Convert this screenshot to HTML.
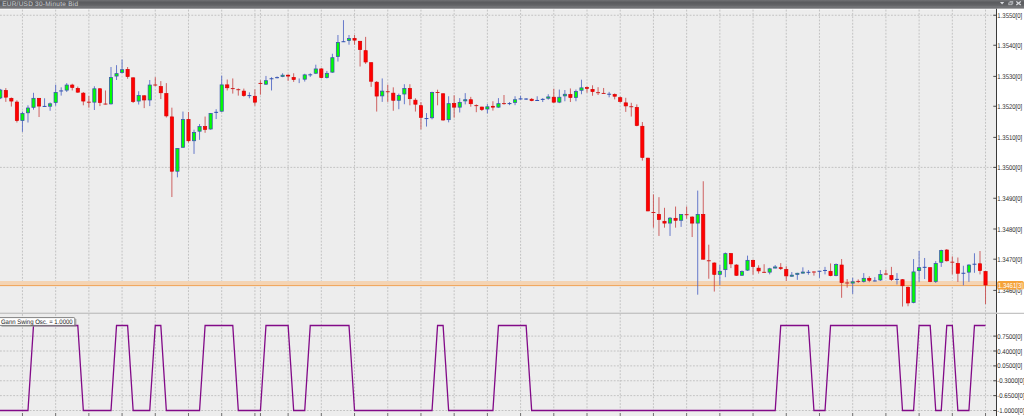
<!DOCTYPE html><html><head><meta charset="utf-8"><style>html,body{margin:0;padding:0;background:#fff;overflow:hidden}svg{display:block}text{font-family:"Liberation Sans",sans-serif;text-rendering:geometricPrecision}</style></head><body>
<svg width="1024" height="416" viewBox="0 0 1024 416">
<rect x="0" y="0" width="1024" height="416" fill="#ffffff"/>
<rect x="0" y="9.5" width="996" height="303" fill="#ededed"/>
<rect x="0" y="314" width="996" height="102" fill="#ededed"/>
<rect x="0" y="312.5" width="1024" height="1.5" fill="#c4c4c4"/>
<defs><linearGradient id="tb" x1="0" y1="0" x2="0" y2="1">
<stop offset="0" stop-color="#737477"/><stop offset="0.1" stop-color="#67686b"/>
<stop offset="0.3" stop-color="#5a5b5e"/><stop offset="0.6" stop-color="#636467"/>
<stop offset="0.8" stop-color="#77787b"/><stop offset="0.92" stop-color="#6c6d70"/><stop offset="1" stop-color="#606164"/></linearGradient></defs>
<rect x="0" y="0" width="1024" height="8.8" fill="url(#tb)"/>
<rect x="0" y="8.8" width="996" height="1.1" fill="#f8f8f8"/>
<text x="2.2" y="6.3" font-size="6.5" textLength="75.8" lengthAdjust="spacing" fill="#c9cbd0">EUR/USD 30-Minute Bid</text>
<path d="M1000 2.1 L1004.2 2.1 L1002.1 4.5 Z" fill="#d8dade"/>
<path d="M1009.6 1.3 H1013.2 V4 H1012.4 V2.2 H1009.6 Z" fill="#c4c6ca"/>
<rect x="1008.8" y="2.9" width="3.2" height="1.8" fill="#55565a" stroke="#c4c6ca" stroke-width="0.8"/>
<path d="M1016.3 1.5 L1020.8 4.9 M1020.8 1.5 L1016.3 4.9" stroke="#d6d8dc" stroke-width="1.3"/>
<line x1="22.44" y1="9.7" x2="22.44" y2="312.5" stroke="#bdbdbd" stroke-width="0.9" stroke-dasharray="1.8 1.5"/>
<line x1="22.44" y1="314" x2="22.44" y2="411.5" stroke="#bdbdbd" stroke-width="0.9" stroke-dasharray="1.8 1.5"/>
<line x1="22.44" y1="413" x2="22.44" y2="416" stroke="#606060" stroke-width="0.9"/>
<line x1="55.65" y1="9.7" x2="55.65" y2="312.5" stroke="#bdbdbd" stroke-width="0.9" stroke-dasharray="1.8 1.5"/>
<line x1="55.65" y1="314" x2="55.65" y2="411.5" stroke="#bdbdbd" stroke-width="0.9" stroke-dasharray="1.8 1.5"/>
<line x1="55.65" y1="413" x2="55.65" y2="416" stroke="#606060" stroke-width="0.9"/>
<line x1="88.86" y1="9.7" x2="88.86" y2="312.5" stroke="#bdbdbd" stroke-width="0.9" stroke-dasharray="1.8 1.5"/>
<line x1="88.86" y1="314" x2="88.86" y2="411.5" stroke="#bdbdbd" stroke-width="0.9" stroke-dasharray="1.8 1.5"/>
<line x1="88.86" y1="413" x2="88.86" y2="416" stroke="#606060" stroke-width="0.9"/>
<line x1="122.07" y1="9.7" x2="122.07" y2="312.5" stroke="#bdbdbd" stroke-width="0.9" stroke-dasharray="1.8 1.5"/>
<line x1="122.07" y1="314" x2="122.07" y2="411.5" stroke="#bdbdbd" stroke-width="0.9" stroke-dasharray="1.8 1.5"/>
<line x1="122.07" y1="413" x2="122.07" y2="416" stroke="#606060" stroke-width="0.9"/>
<line x1="155.28" y1="9.7" x2="155.28" y2="312.5" stroke="#bdbdbd" stroke-width="0.9" stroke-dasharray="1.8 1.5"/>
<line x1="155.28" y1="314" x2="155.28" y2="411.5" stroke="#bdbdbd" stroke-width="0.9" stroke-dasharray="1.8 1.5"/>
<line x1="155.28" y1="413" x2="155.28" y2="416" stroke="#606060" stroke-width="0.9"/>
<line x1="188.49" y1="9.7" x2="188.49" y2="312.5" stroke="#bdbdbd" stroke-width="0.9" stroke-dasharray="1.8 1.5"/>
<line x1="188.49" y1="314" x2="188.49" y2="411.5" stroke="#bdbdbd" stroke-width="0.9" stroke-dasharray="1.8 1.5"/>
<line x1="188.49" y1="413" x2="188.49" y2="416" stroke="#606060" stroke-width="0.9"/>
<line x1="221.70" y1="9.7" x2="221.70" y2="312.5" stroke="#bdbdbd" stroke-width="0.9" stroke-dasharray="1.8 1.5"/>
<line x1="221.70" y1="314" x2="221.70" y2="411.5" stroke="#bdbdbd" stroke-width="0.9" stroke-dasharray="1.8 1.5"/>
<line x1="221.70" y1="413" x2="221.70" y2="416" stroke="#606060" stroke-width="0.9"/>
<line x1="254.91" y1="9.7" x2="254.91" y2="312.5" stroke="#bdbdbd" stroke-width="0.9" stroke-dasharray="1.8 1.5"/>
<line x1="254.91" y1="314" x2="254.91" y2="411.5" stroke="#bdbdbd" stroke-width="0.9" stroke-dasharray="1.8 1.5"/>
<line x1="254.91" y1="413" x2="254.91" y2="416" stroke="#606060" stroke-width="0.9"/>
<line x1="288.12" y1="9.7" x2="288.12" y2="312.5" stroke="#bdbdbd" stroke-width="0.9" stroke-dasharray="1.8 1.5"/>
<line x1="288.12" y1="314" x2="288.12" y2="411.5" stroke="#bdbdbd" stroke-width="0.9" stroke-dasharray="1.8 1.5"/>
<line x1="288.12" y1="413" x2="288.12" y2="416" stroke="#606060" stroke-width="0.9"/>
<line x1="321.33" y1="9.7" x2="321.33" y2="312.5" stroke="#bdbdbd" stroke-width="0.9" stroke-dasharray="1.8 1.5"/>
<line x1="321.33" y1="314" x2="321.33" y2="411.5" stroke="#bdbdbd" stroke-width="0.9" stroke-dasharray="1.8 1.5"/>
<line x1="321.33" y1="413" x2="321.33" y2="416" stroke="#606060" stroke-width="0.9"/>
<line x1="354.54" y1="9.7" x2="354.54" y2="312.5" stroke="#bdbdbd" stroke-width="0.9" stroke-dasharray="1.8 1.5"/>
<line x1="354.54" y1="314" x2="354.54" y2="411.5" stroke="#bdbdbd" stroke-width="0.9" stroke-dasharray="1.8 1.5"/>
<line x1="354.54" y1="413" x2="354.54" y2="416" stroke="#606060" stroke-width="0.9"/>
<line x1="387.75" y1="9.7" x2="387.75" y2="312.5" stroke="#bdbdbd" stroke-width="0.9" stroke-dasharray="1.8 1.5"/>
<line x1="387.75" y1="314" x2="387.75" y2="411.5" stroke="#bdbdbd" stroke-width="0.9" stroke-dasharray="1.8 1.5"/>
<line x1="387.75" y1="413" x2="387.75" y2="416" stroke="#606060" stroke-width="0.9"/>
<line x1="420.96" y1="9.7" x2="420.96" y2="312.5" stroke="#bdbdbd" stroke-width="0.9" stroke-dasharray="1.8 1.5"/>
<line x1="420.96" y1="314" x2="420.96" y2="411.5" stroke="#bdbdbd" stroke-width="0.9" stroke-dasharray="1.8 1.5"/>
<line x1="420.96" y1="413" x2="420.96" y2="416" stroke="#606060" stroke-width="0.9"/>
<line x1="454.17" y1="9.7" x2="454.17" y2="312.5" stroke="#bdbdbd" stroke-width="0.9" stroke-dasharray="1.8 1.5"/>
<line x1="454.17" y1="314" x2="454.17" y2="411.5" stroke="#bdbdbd" stroke-width="0.9" stroke-dasharray="1.8 1.5"/>
<line x1="454.17" y1="413" x2="454.17" y2="416" stroke="#606060" stroke-width="0.9"/>
<line x1="487.38" y1="9.7" x2="487.38" y2="312.5" stroke="#bdbdbd" stroke-width="0.9" stroke-dasharray="1.8 1.5"/>
<line x1="487.38" y1="314" x2="487.38" y2="411.5" stroke="#bdbdbd" stroke-width="0.9" stroke-dasharray="1.8 1.5"/>
<line x1="487.38" y1="413" x2="487.38" y2="416" stroke="#606060" stroke-width="0.9"/>
<line x1="520.59" y1="9.7" x2="520.59" y2="312.5" stroke="#bdbdbd" stroke-width="0.9" stroke-dasharray="1.8 1.5"/>
<line x1="520.59" y1="314" x2="520.59" y2="411.5" stroke="#bdbdbd" stroke-width="0.9" stroke-dasharray="1.8 1.5"/>
<line x1="520.59" y1="413" x2="520.59" y2="416" stroke="#606060" stroke-width="0.9"/>
<line x1="553.80" y1="9.7" x2="553.80" y2="312.5" stroke="#bdbdbd" stroke-width="0.9" stroke-dasharray="1.8 1.5"/>
<line x1="553.80" y1="314" x2="553.80" y2="411.5" stroke="#bdbdbd" stroke-width="0.9" stroke-dasharray="1.8 1.5"/>
<line x1="553.80" y1="413" x2="553.80" y2="416" stroke="#606060" stroke-width="0.9"/>
<line x1="587.01" y1="9.7" x2="587.01" y2="312.5" stroke="#bdbdbd" stroke-width="0.9" stroke-dasharray="1.8 1.5"/>
<line x1="587.01" y1="314" x2="587.01" y2="411.5" stroke="#bdbdbd" stroke-width="0.9" stroke-dasharray="1.8 1.5"/>
<line x1="587.01" y1="413" x2="587.01" y2="416" stroke="#606060" stroke-width="0.9"/>
<line x1="620.22" y1="9.7" x2="620.22" y2="312.5" stroke="#bdbdbd" stroke-width="0.9" stroke-dasharray="1.8 1.5"/>
<line x1="620.22" y1="314" x2="620.22" y2="411.5" stroke="#bdbdbd" stroke-width="0.9" stroke-dasharray="1.8 1.5"/>
<line x1="620.22" y1="413" x2="620.22" y2="416" stroke="#606060" stroke-width="0.9"/>
<line x1="653.43" y1="9.7" x2="653.43" y2="312.5" stroke="#bdbdbd" stroke-width="0.9" stroke-dasharray="1.8 1.5"/>
<line x1="653.43" y1="314" x2="653.43" y2="411.5" stroke="#bdbdbd" stroke-width="0.9" stroke-dasharray="1.8 1.5"/>
<line x1="653.43" y1="413" x2="653.43" y2="416" stroke="#606060" stroke-width="0.9"/>
<line x1="686.64" y1="9.7" x2="686.64" y2="312.5" stroke="#bdbdbd" stroke-width="0.9" stroke-dasharray="1.8 1.5"/>
<line x1="686.64" y1="314" x2="686.64" y2="411.5" stroke="#bdbdbd" stroke-width="0.9" stroke-dasharray="1.8 1.5"/>
<line x1="686.64" y1="413" x2="686.64" y2="416" stroke="#606060" stroke-width="0.9"/>
<line x1="719.85" y1="9.7" x2="719.85" y2="312.5" stroke="#bdbdbd" stroke-width="0.9" stroke-dasharray="1.8 1.5"/>
<line x1="719.85" y1="314" x2="719.85" y2="411.5" stroke="#bdbdbd" stroke-width="0.9" stroke-dasharray="1.8 1.5"/>
<line x1="719.85" y1="413" x2="719.85" y2="416" stroke="#606060" stroke-width="0.9"/>
<line x1="753.06" y1="9.7" x2="753.06" y2="312.5" stroke="#bdbdbd" stroke-width="0.9" stroke-dasharray="1.8 1.5"/>
<line x1="753.06" y1="314" x2="753.06" y2="411.5" stroke="#bdbdbd" stroke-width="0.9" stroke-dasharray="1.8 1.5"/>
<line x1="753.06" y1="413" x2="753.06" y2="416" stroke="#606060" stroke-width="0.9"/>
<line x1="786.27" y1="9.7" x2="786.27" y2="312.5" stroke="#bdbdbd" stroke-width="0.9" stroke-dasharray="1.8 1.5"/>
<line x1="786.27" y1="314" x2="786.27" y2="411.5" stroke="#bdbdbd" stroke-width="0.9" stroke-dasharray="1.8 1.5"/>
<line x1="786.27" y1="413" x2="786.27" y2="416" stroke="#606060" stroke-width="0.9"/>
<line x1="819.48" y1="9.7" x2="819.48" y2="312.5" stroke="#bdbdbd" stroke-width="0.9" stroke-dasharray="1.8 1.5"/>
<line x1="819.48" y1="314" x2="819.48" y2="411.5" stroke="#bdbdbd" stroke-width="0.9" stroke-dasharray="1.8 1.5"/>
<line x1="819.48" y1="413" x2="819.48" y2="416" stroke="#606060" stroke-width="0.9"/>
<line x1="852.69" y1="9.7" x2="852.69" y2="312.5" stroke="#bdbdbd" stroke-width="0.9" stroke-dasharray="1.8 1.5"/>
<line x1="852.69" y1="314" x2="852.69" y2="411.5" stroke="#bdbdbd" stroke-width="0.9" stroke-dasharray="1.8 1.5"/>
<line x1="852.69" y1="413" x2="852.69" y2="416" stroke="#606060" stroke-width="0.9"/>
<line x1="885.90" y1="9.7" x2="885.90" y2="312.5" stroke="#bdbdbd" stroke-width="0.9" stroke-dasharray="1.8 1.5"/>
<line x1="885.90" y1="314" x2="885.90" y2="411.5" stroke="#bdbdbd" stroke-width="0.9" stroke-dasharray="1.8 1.5"/>
<line x1="885.90" y1="413" x2="885.90" y2="416" stroke="#606060" stroke-width="0.9"/>
<line x1="919.11" y1="9.7" x2="919.11" y2="312.5" stroke="#bdbdbd" stroke-width="0.9" stroke-dasharray="1.8 1.5"/>
<line x1="919.11" y1="314" x2="919.11" y2="411.5" stroke="#bdbdbd" stroke-width="0.9" stroke-dasharray="1.8 1.5"/>
<line x1="919.11" y1="413" x2="919.11" y2="416" stroke="#606060" stroke-width="0.9"/>
<line x1="952.32" y1="9.7" x2="952.32" y2="312.5" stroke="#bdbdbd" stroke-width="0.9" stroke-dasharray="1.8 1.5"/>
<line x1="952.32" y1="314" x2="952.32" y2="411.5" stroke="#bdbdbd" stroke-width="0.9" stroke-dasharray="1.8 1.5"/>
<line x1="952.32" y1="413" x2="952.32" y2="416" stroke="#606060" stroke-width="0.9"/>
<line x1="985.53" y1="9.7" x2="985.53" y2="312.5" stroke="#bdbdbd" stroke-width="0.9" stroke-dasharray="1.8 1.5"/>
<line x1="985.53" y1="314" x2="985.53" y2="411.5" stroke="#bdbdbd" stroke-width="0.9" stroke-dasharray="1.8 1.5"/>
<line x1="985.53" y1="413" x2="985.53" y2="416" stroke="#606060" stroke-width="0.9"/>
<line x1="260.44" y1="9.7" x2="260.44" y2="312.5" stroke="#bdbdbd" stroke-width="0.9" stroke-dasharray="1.8 1.5"/>
<line x1="260.44" y1="314" x2="260.44" y2="411.5" stroke="#bdbdbd" stroke-width="0.9" stroke-dasharray="1.8 1.5"/>
<line x1="260.44" y1="413" x2="260.44" y2="416" stroke="#606060" stroke-width="0.9"/>
<line x1="0" y1="15.25" x2="996" y2="15.25" stroke="#bdbdbd" stroke-width="0.9" stroke-dasharray="1.8 1.5"/>
<line x1="0" y1="167.40" x2="996" y2="167.40" stroke="#bdbdbd" stroke-width="0.9" stroke-dasharray="1.8 1.5"/>
<line x1="0" y1="336.12" x2="996" y2="336.12" stroke="#bdbdbd" stroke-width="0.9" stroke-dasharray="1.8 1.5"/>
<line x1="0" y1="351.00" x2="996" y2="351.00" stroke="#bdbdbd" stroke-width="0.9" stroke-dasharray="1.8 1.5"/>
<line x1="0" y1="365.88" x2="996" y2="365.88" stroke="#bdbdbd" stroke-width="0.9" stroke-dasharray="1.8 1.5"/>
<line x1="0" y1="380.75" x2="996" y2="380.75" stroke="#bdbdbd" stroke-width="0.9" stroke-dasharray="1.8 1.5"/>
<line x1="0" y1="395.62" x2="996" y2="395.62" stroke="#bdbdbd" stroke-width="0.9" stroke-dasharray="1.8 1.5"/>
<line x1="0" y1="410.50" x2="996" y2="410.50" stroke="#bdbdbd" stroke-width="0.9" stroke-dasharray="1.8 1.5"/>
<rect x="0" y="281" width="996" height="4.4" fill="#f4d4b4"/>
<rect x="0" y="285" width="996" height="1.1" fill="#f0a860"/>
<line x1="0.30" y1="88.91" x2="0.30" y2="99.06" stroke="#4f66c4" stroke-width="0.85"/>
<rect x="-1.30" y="90.04" width="3.20" height="7.89" fill="#00ff00" stroke="#3a52b0" stroke-width="0.75"/>
<line x1="5.83" y1="88.12" x2="5.83" y2="101.88" stroke="#c84848" stroke-width="0.85"/>
<rect x="4.23" y="90.51" width="3.20" height="6.64" fill="#ff0000" stroke="#d80000" stroke-width="0.7"/>
<line x1="11.37" y1="97.50" x2="11.37" y2="106.56" stroke="#c84848" stroke-width="0.85"/>
<rect x="9.77" y="98.32" width="3.20" height="2.74" fill="#ff0000" stroke="#d80000" stroke-width="0.7"/>
<line x1="16.91" y1="100.31" x2="16.91" y2="122.50" stroke="#c84848" stroke-width="0.85"/>
<rect x="15.31" y="102.07" width="3.20" height="18.52" fill="#ff0000" stroke="#d80000" stroke-width="0.7"/>
<line x1="22.44" y1="111.56" x2="22.44" y2="131.88" stroke="#4f66c4" stroke-width="0.85"/>
<rect x="20.84" y="113.47" width="3.20" height="7.11" fill="#00ff00" stroke="#3a52b0" stroke-width="0.75"/>
<line x1="27.98" y1="105.31" x2="27.98" y2="122.50" stroke="#4f66c4" stroke-width="0.85"/>
<rect x="26.38" y="108.01" width="3.20" height="4.77" fill="#00ff00" stroke="#3a52b0" stroke-width="0.75"/>
<line x1="33.51" y1="92.81" x2="33.51" y2="109.69" stroke="#4f66c4" stroke-width="0.85"/>
<rect x="31.91" y="98.32" width="3.20" height="8.99" fill="#00ff00" stroke="#3a52b0" stroke-width="0.75"/>
<line x1="39.05" y1="97.97" x2="39.05" y2="117.03" stroke="#c84848" stroke-width="0.85"/>
<rect x="37.45" y="98.32" width="3.20" height="7.74" fill="#ff0000" stroke="#d80000" stroke-width="0.7"/>
<line x1="44.58" y1="98.28" x2="44.58" y2="106.88" stroke="#4f66c4" stroke-width="0.85"/>
<line x1="42.63" y1="106.41" x2="46.53" y2="106.41" stroke="#3050b0" stroke-width="1"/>
<line x1="50.11" y1="102.50" x2="50.11" y2="110.78" stroke="#4f66c4" stroke-width="0.85"/>
<rect x="48.51" y="103.79" width="3.20" height="2.42" fill="#00ff00" stroke="#3a52b0" stroke-width="0.75"/>
<line x1="55.65" y1="84.69" x2="55.65" y2="105.78" stroke="#4f66c4" stroke-width="0.85"/>
<rect x="54.05" y="92.38" width="3.20" height="10.24" fill="#00ff00" stroke="#3a52b0" stroke-width="0.75"/>
<line x1="61.19" y1="87.34" x2="61.19" y2="95.62" stroke="#4f66c4" stroke-width="0.85"/>
<line x1="59.23" y1="90.94" x2="63.14" y2="90.94" stroke="#3050b0" stroke-width="1"/>
<line x1="66.72" y1="83.12" x2="66.72" y2="92.03" stroke="#4f66c4" stroke-width="0.85"/>
<rect x="65.12" y="85.04" width="3.20" height="5.08" fill="#00ff00" stroke="#3a52b0" stroke-width="0.75"/>
<line x1="72.25" y1="83.75" x2="72.25" y2="90.47" stroke="#c84848" stroke-width="0.85"/>
<rect x="70.65" y="85.04" width="3.20" height="2.42" fill="#ff0000" stroke="#d80000" stroke-width="0.7"/>
<line x1="77.79" y1="86.56" x2="77.79" y2="92.81" stroke="#c84848" stroke-width="0.85"/>
<rect x="76.19" y="88.47" width="3.20" height="3.67" fill="#ff0000" stroke="#d80000" stroke-width="0.7"/>
<line x1="83.33" y1="92.03" x2="83.33" y2="105.31" stroke="#c84848" stroke-width="0.85"/>
<rect x="81.72" y="93.16" width="3.20" height="7.89" fill="#ff0000" stroke="#d80000" stroke-width="0.7"/>
<line x1="88.86" y1="95.94" x2="88.86" y2="107.66" stroke="#c84848" stroke-width="0.85"/>
<line x1="86.91" y1="102.19" x2="90.81" y2="102.19" stroke="#d02020" stroke-width="1"/>
<line x1="94.39" y1="86.25" x2="94.39" y2="110.00" stroke="#4f66c4" stroke-width="0.85"/>
<rect x="92.79" y="88.79" width="3.20" height="13.36" fill="#00ff00" stroke="#3a52b0" stroke-width="0.75"/>
<line x1="99.93" y1="88.12" x2="99.93" y2="106.09" stroke="#c84848" stroke-width="0.85"/>
<rect x="98.33" y="88.79" width="3.20" height="13.83" fill="#ff0000" stroke="#d80000" stroke-width="0.7"/>
<line x1="105.47" y1="90.47" x2="105.47" y2="104.53" stroke="#c84848" stroke-width="0.85"/>
<line x1="103.52" y1="104.06" x2="107.42" y2="104.06" stroke="#d02020" stroke-width="1"/>
<line x1="111.00" y1="67.03" x2="111.00" y2="104.53" stroke="#4f66c4" stroke-width="0.85"/>
<rect x="109.40" y="77.54" width="3.20" height="26.33" fill="#00ff00" stroke="#3a52b0" stroke-width="0.75"/>
<line x1="116.53" y1="65.16" x2="116.53" y2="80.00" stroke="#4f66c4" stroke-width="0.85"/>
<rect x="114.93" y="73.63" width="3.20" height="2.42" fill="#00ff00" stroke="#3a52b0" stroke-width="0.75"/>
<line x1="122.07" y1="59.53" x2="122.07" y2="73.28" stroke="#4f66c4" stroke-width="0.85"/>
<rect x="120.47" y="69.72" width="3.20" height="2.74" fill="#00ff00" stroke="#3a52b0" stroke-width="0.75"/>
<line x1="127.61" y1="67.03" x2="127.61" y2="78.75" stroke="#c84848" stroke-width="0.85"/>
<rect x="126.00" y="69.41" width="3.20" height="7.11" fill="#ff0000" stroke="#d80000" stroke-width="0.7"/>
<line x1="133.14" y1="77.19" x2="133.14" y2="102.97" stroke="#c84848" stroke-width="0.85"/>
<rect x="131.54" y="77.85" width="3.20" height="23.68" fill="#ff0000" stroke="#d80000" stroke-width="0.7"/>
<line x1="138.68" y1="91.25" x2="138.68" y2="104.53" stroke="#4f66c4" stroke-width="0.85"/>
<rect x="137.08" y="95.51" width="3.20" height="5.55" fill="#00ff00" stroke="#3a52b0" stroke-width="0.75"/>
<line x1="144.21" y1="95.16" x2="144.21" y2="108.12" stroke="#c84848" stroke-width="0.85"/>
<rect x="142.61" y="95.82" width="3.20" height="4.14" fill="#ff0000" stroke="#d80000" stroke-width="0.7"/>
<line x1="149.75" y1="80.00" x2="149.75" y2="106.09" stroke="#4f66c4" stroke-width="0.85"/>
<rect x="148.15" y="85.04" width="3.20" height="14.93" fill="#00ff00" stroke="#3a52b0" stroke-width="0.75"/>
<line x1="155.28" y1="77.19" x2="155.28" y2="86.25" stroke="#c84848" stroke-width="0.85"/>
<line x1="153.33" y1="85.00" x2="157.23" y2="85.00" stroke="#d02020" stroke-width="1"/>
<line x1="160.82" y1="81.09" x2="160.82" y2="99.06" stroke="#c84848" stroke-width="0.85"/>
<rect x="159.22" y="86.60" width="3.20" height="6.17" fill="#ff0000" stroke="#d80000" stroke-width="0.7"/>
<line x1="166.35" y1="83.12" x2="166.35" y2="117.50" stroke="#c84848" stroke-width="0.85"/>
<rect x="164.75" y="93.63" width="3.20" height="22.27" fill="#ff0000" stroke="#d80000" stroke-width="0.7"/>
<line x1="171.89" y1="107.66" x2="171.89" y2="197.03" stroke="#c84848" stroke-width="0.85"/>
<rect x="170.29" y="116.91" width="3.20" height="54.30" fill="#ff0000" stroke="#d80000" stroke-width="0.7"/>
<line x1="177.42" y1="148.12" x2="177.42" y2="177.34" stroke="#4f66c4" stroke-width="0.85"/>
<rect x="175.82" y="148.47" width="3.20" height="22.74" fill="#00ff00" stroke="#3a52b0" stroke-width="0.75"/>
<line x1="182.96" y1="111.56" x2="182.96" y2="147.66" stroke="#4f66c4" stroke-width="0.85"/>
<rect x="181.36" y="119.41" width="3.20" height="27.89" fill="#00ff00" stroke="#3a52b0" stroke-width="0.75"/>
<line x1="188.49" y1="112.03" x2="188.49" y2="142.50" stroke="#c84848" stroke-width="0.85"/>
<rect x="186.89" y="119.41" width="3.20" height="21.33" fill="#ff0000" stroke="#d80000" stroke-width="0.7"/>
<line x1="194.03" y1="129.69" x2="194.03" y2="153.91" stroke="#4f66c4" stroke-width="0.85"/>
<rect x="192.43" y="132.38" width="3.20" height="8.36" fill="#00ff00" stroke="#3a52b0" stroke-width="0.75"/>
<line x1="199.56" y1="124.06" x2="199.56" y2="139.84" stroke="#4f66c4" stroke-width="0.85"/>
<rect x="197.96" y="126.60" width="3.20" height="4.61" fill="#00ff00" stroke="#3a52b0" stroke-width="0.75"/>
<line x1="205.10" y1="116.56" x2="205.10" y2="132.81" stroke="#c84848" stroke-width="0.85"/>
<rect x="203.50" y="126.60" width="3.20" height="2.74" fill="#ff0000" stroke="#d80000" stroke-width="0.7"/>
<line x1="210.63" y1="113.12" x2="210.63" y2="129.69" stroke="#4f66c4" stroke-width="0.85"/>
<rect x="209.03" y="113.47" width="3.20" height="15.55" fill="#00ff00" stroke="#3a52b0" stroke-width="0.75"/>
<line x1="216.17" y1="109.22" x2="216.17" y2="119.06" stroke="#4f66c4" stroke-width="0.85"/>
<line x1="214.22" y1="112.34" x2="218.12" y2="112.34" stroke="#3050b0" stroke-width="1"/>
<line x1="221.70" y1="75.62" x2="221.70" y2="111.88" stroke="#4f66c4" stroke-width="0.85"/>
<rect x="220.10" y="84.88" width="3.20" height="26.33" fill="#00ff00" stroke="#3a52b0" stroke-width="0.75"/>
<line x1="227.24" y1="79.53" x2="227.24" y2="90.47" stroke="#c84848" stroke-width="0.85"/>
<rect x="225.64" y="84.88" width="3.20" height="2.89" fill="#ff0000" stroke="#d80000" stroke-width="0.7"/>
<line x1="232.77" y1="78.44" x2="232.77" y2="93.59" stroke="#c84848" stroke-width="0.85"/>
<line x1="230.82" y1="88.59" x2="234.72" y2="88.59" stroke="#d02020" stroke-width="1"/>
<line x1="238.31" y1="88.44" x2="238.31" y2="95.62" stroke="#c84848" stroke-width="0.85"/>
<line x1="236.36" y1="89.69" x2="240.25" y2="89.69" stroke="#d02020" stroke-width="1"/>
<line x1="243.84" y1="88.59" x2="243.84" y2="96.72" stroke="#c84848" stroke-width="0.85"/>
<rect x="242.24" y="91.13" width="3.20" height="4.46" fill="#ff0000" stroke="#d80000" stroke-width="0.7"/>
<line x1="249.38" y1="92.34" x2="249.38" y2="98.28" stroke="#4f66c4" stroke-width="0.85"/>
<line x1="247.43" y1="95.62" x2="251.33" y2="95.62" stroke="#3050b0" stroke-width="1"/>
<line x1="254.91" y1="89.38" x2="254.91" y2="105.78" stroke="#c84848" stroke-width="0.85"/>
<rect x="253.31" y="96.29" width="3.20" height="5.86" fill="#ff0000" stroke="#d80000" stroke-width="0.7"/>
<line x1="260.44" y1="80.31" x2="260.44" y2="94.69" stroke="#c84848" stroke-width="0.85"/>
<line x1="258.50" y1="83.44" x2="262.39" y2="83.44" stroke="#d02020" stroke-width="1"/>
<line x1="265.98" y1="75.94" x2="265.98" y2="85.00" stroke="#4f66c4" stroke-width="0.85"/>
<rect x="264.38" y="80.66" width="3.20" height="3.52" fill="#00ff00" stroke="#3a52b0" stroke-width="0.75"/>
<line x1="271.52" y1="77.19" x2="271.52" y2="90.47" stroke="#4f66c4" stroke-width="0.85"/>
<line x1="269.57" y1="78.75" x2="273.47" y2="78.75" stroke="#3050b0" stroke-width="1"/>
<line x1="277.05" y1="76.41" x2="277.05" y2="78.44" stroke="#4f66c4" stroke-width="0.85"/>
<line x1="275.10" y1="77.66" x2="279.00" y2="77.66" stroke="#3050b0" stroke-width="1"/>
<line x1="282.59" y1="73.28" x2="282.59" y2="77.19" stroke="#4f66c4" stroke-width="0.85"/>
<rect x="280.99" y="75.19" width="3.20" height="1.33" fill="#00ff00" stroke="#3a52b0" stroke-width="0.75"/>
<line x1="288.12" y1="74.38" x2="288.12" y2="80.78" stroke="#c84848" stroke-width="0.85"/>
<rect x="286.52" y="75.19" width="3.20" height="0.86" fill="#ff0000" stroke="#d80000" stroke-width="0.7"/>
<line x1="293.66" y1="73.28" x2="293.66" y2="81.88" stroke="#c84848" stroke-width="0.85"/>
<rect x="292.06" y="77.54" width="3.20" height="1.96" fill="#ff0000" stroke="#d80000" stroke-width="0.7"/>
<line x1="299.19" y1="78.44" x2="299.19" y2="83.12" stroke="#4f66c4" stroke-width="0.85"/>
<line x1="304.73" y1="73.75" x2="304.73" y2="81.56" stroke="#4f66c4" stroke-width="0.85"/>
<rect x="303.13" y="74.88" width="3.20" height="4.30" fill="#00ff00" stroke="#3a52b0" stroke-width="0.75"/>
<line x1="310.26" y1="73.28" x2="310.26" y2="76.88" stroke="#4f66c4" stroke-width="0.85"/>
<line x1="308.31" y1="74.84" x2="312.21" y2="74.84" stroke="#3050b0" stroke-width="1"/>
<line x1="315.80" y1="64.69" x2="315.80" y2="74.06" stroke="#4f66c4" stroke-width="0.85"/>
<rect x="314.20" y="68.94" width="3.20" height="4.30" fill="#00ff00" stroke="#3a52b0" stroke-width="0.75"/>
<line x1="321.33" y1="68.12" x2="321.33" y2="78.44" stroke="#c84848" stroke-width="0.85"/>
<rect x="319.73" y="68.94" width="3.20" height="8.68" fill="#ff0000" stroke="#d80000" stroke-width="0.7"/>
<line x1="326.87" y1="70.94" x2="326.87" y2="78.44" stroke="#4f66c4" stroke-width="0.85"/>
<rect x="325.27" y="73.32" width="3.20" height="4.30" fill="#00ff00" stroke="#3a52b0" stroke-width="0.75"/>
<line x1="332.40" y1="53.75" x2="332.40" y2="72.81" stroke="#4f66c4" stroke-width="0.85"/>
<rect x="330.80" y="57.69" width="3.20" height="14.46" fill="#00ff00" stroke="#3a52b0" stroke-width="0.75"/>
<line x1="337.94" y1="35.00" x2="337.94" y2="61.56" stroke="#4f66c4" stroke-width="0.85"/>
<rect x="336.34" y="42.38" width="3.20" height="14.14" fill="#00ff00" stroke="#3a52b0" stroke-width="0.75"/>
<line x1="343.47" y1="20.16" x2="343.47" y2="42.03" stroke="#4f66c4" stroke-width="0.85"/>
<line x1="341.52" y1="41.72" x2="345.42" y2="41.72" stroke="#3050b0" stroke-width="1"/>
<line x1="349.00" y1="35.00" x2="349.00" y2="44.69" stroke="#4f66c4" stroke-width="0.85"/>
<rect x="347.41" y="38.48" width="3.20" height="2.11" fill="#00ff00" stroke="#3a52b0" stroke-width="0.75"/>
<line x1="354.54" y1="35.00" x2="354.54" y2="44.69" stroke="#c84848" stroke-width="0.85"/>
<rect x="352.94" y="38.48" width="3.20" height="1.64" fill="#ff0000" stroke="#d80000" stroke-width="0.7"/>
<line x1="360.08" y1="40.94" x2="360.08" y2="66.56" stroke="#c84848" stroke-width="0.85"/>
<rect x="358.48" y="41.29" width="3.20" height="8.21" fill="#ff0000" stroke="#d80000" stroke-width="0.7"/>
<line x1="365.61" y1="36.88" x2="365.61" y2="63.91" stroke="#c84848" stroke-width="0.85"/>
<rect x="364.01" y="50.66" width="3.20" height="11.33" fill="#ff0000" stroke="#d80000" stroke-width="0.7"/>
<line x1="371.15" y1="62.34" x2="371.15" y2="86.88" stroke="#c84848" stroke-width="0.85"/>
<rect x="369.55" y="62.69" width="3.20" height="18.52" fill="#ff0000" stroke="#d80000" stroke-width="0.7"/>
<line x1="376.68" y1="81.09" x2="376.68" y2="111.56" stroke="#c84848" stroke-width="0.85"/>
<rect x="375.08" y="82.22" width="3.20" height="13.83" fill="#ff0000" stroke="#d80000" stroke-width="0.7"/>
<line x1="382.22" y1="78.44" x2="382.22" y2="101.88" stroke="#4f66c4" stroke-width="0.85"/>
<rect x="380.62" y="91.13" width="3.20" height="4.77" fill="#00ff00" stroke="#3a52b0" stroke-width="0.75"/>
<line x1="387.75" y1="84.69" x2="387.75" y2="101.88" stroke="#c84848" stroke-width="0.85"/>
<line x1="385.80" y1="91.72" x2="389.70" y2="91.72" stroke="#d02020" stroke-width="1"/>
<line x1="393.29" y1="87.34" x2="393.29" y2="110.78" stroke="#c84848" stroke-width="0.85"/>
<rect x="391.69" y="93.16" width="3.20" height="7.11" fill="#ff0000" stroke="#d80000" stroke-width="0.7"/>
<line x1="398.82" y1="93.59" x2="398.82" y2="109.22" stroke="#4f66c4" stroke-width="0.85"/>
<rect x="397.22" y="95.51" width="3.20" height="4.77" fill="#00ff00" stroke="#3a52b0" stroke-width="0.75"/>
<line x1="404.36" y1="84.22" x2="404.36" y2="104.22" stroke="#4f66c4" stroke-width="0.85"/>
<rect x="402.76" y="88.47" width="3.20" height="5.55" fill="#00ff00" stroke="#3a52b0" stroke-width="0.75"/>
<line x1="409.89" y1="84.22" x2="409.89" y2="105.31" stroke="#c84848" stroke-width="0.85"/>
<rect x="408.29" y="88.47" width="3.20" height="10.24" fill="#ff0000" stroke="#d80000" stroke-width="0.7"/>
<line x1="415.43" y1="98.28" x2="415.43" y2="111.56" stroke="#c84848" stroke-width="0.85"/>
<rect x="413.83" y="100.19" width="3.20" height="3.99" fill="#ff0000" stroke="#d80000" stroke-width="0.7"/>
<line x1="420.96" y1="102.19" x2="420.96" y2="129.38" stroke="#c84848" stroke-width="0.85"/>
<rect x="419.36" y="105.66" width="3.20" height="11.72" fill="#ff0000" stroke="#d80000" stroke-width="0.7"/>
<line x1="426.50" y1="113.12" x2="426.50" y2="126.56" stroke="#4f66c4" stroke-width="0.85"/>
<line x1="424.55" y1="118.59" x2="428.44" y2="118.59" stroke="#3050b0" stroke-width="1"/>
<line x1="432.03" y1="91.72" x2="432.03" y2="119.38" stroke="#4f66c4" stroke-width="0.85"/>
<rect x="430.43" y="92.38" width="3.20" height="25.39" fill="#00ff00" stroke="#3a52b0" stroke-width="0.75"/>
<line x1="437.56" y1="89.69" x2="437.56" y2="105.31" stroke="#c84848" stroke-width="0.85"/>
<line x1="435.62" y1="92.50" x2="439.51" y2="92.50" stroke="#d02020" stroke-width="1"/>
<line x1="443.10" y1="93.12" x2="443.10" y2="120.78" stroke="#c84848" stroke-width="0.85"/>
<rect x="441.50" y="93.79" width="3.20" height="26.18" fill="#ff0000" stroke="#d80000" stroke-width="0.7"/>
<line x1="448.64" y1="96.25" x2="448.64" y2="122.34" stroke="#4f66c4" stroke-width="0.85"/>
<rect x="447.04" y="103.63" width="3.20" height="16.02" fill="#00ff00" stroke="#3a52b0" stroke-width="0.75"/>
<line x1="454.17" y1="95.31" x2="454.17" y2="117.66" stroke="#c84848" stroke-width="0.85"/>
<rect x="452.57" y="103.47" width="3.20" height="3.67" fill="#ff0000" stroke="#d80000" stroke-width="0.7"/>
<line x1="459.71" y1="98.12" x2="459.71" y2="112.50" stroke="#4f66c4" stroke-width="0.85"/>
<rect x="458.11" y="102.38" width="3.20" height="4.77" fill="#00ff00" stroke="#3a52b0" stroke-width="0.75"/>
<line x1="465.24" y1="93.12" x2="465.24" y2="104.38" stroke="#4f66c4" stroke-width="0.85"/>
<rect x="463.64" y="99.72" width="3.20" height="1.18" fill="#00ff00" stroke="#3a52b0" stroke-width="0.75"/>
<line x1="470.78" y1="96.88" x2="470.78" y2="106.72" stroke="#c84848" stroke-width="0.85"/>
<rect x="469.18" y="99.72" width="3.20" height="3.99" fill="#ff0000" stroke="#d80000" stroke-width="0.7"/>
<line x1="476.31" y1="104.38" x2="476.31" y2="112.19" stroke="#c84848" stroke-width="0.85"/>
<line x1="474.36" y1="105.62" x2="478.26" y2="105.62" stroke="#d02020" stroke-width="1"/>
<line x1="481.85" y1="106.72" x2="481.85" y2="110.94" stroke="#c84848" stroke-width="0.85"/>
<rect x="480.25" y="107.07" width="3.20" height="2.42" fill="#ff0000" stroke="#d80000" stroke-width="0.7"/>
<line x1="487.38" y1="104.06" x2="487.38" y2="113.44" stroke="#4f66c4" stroke-width="0.85"/>
<rect x="485.78" y="106.76" width="3.20" height="2.27" fill="#00ff00" stroke="#3a52b0" stroke-width="0.75"/>
<line x1="492.92" y1="101.25" x2="492.92" y2="110.62" stroke="#c84848" stroke-width="0.85"/>
<rect x="491.32" y="106.29" width="3.20" height="0.86" fill="#ff0000" stroke="#d80000" stroke-width="0.7"/>
<line x1="498.45" y1="98.12" x2="498.45" y2="107.81" stroke="#4f66c4" stroke-width="0.85"/>
<rect x="496.85" y="103.63" width="3.20" height="3.52" fill="#00ff00" stroke="#3a52b0" stroke-width="0.75"/>
<line x1="503.99" y1="95.00" x2="503.99" y2="104.69" stroke="#c84848" stroke-width="0.85"/>
<line x1="502.04" y1="103.59" x2="505.94" y2="103.59" stroke="#d02020" stroke-width="1"/>
<line x1="509.52" y1="102.03" x2="509.52" y2="105.16" stroke="#4f66c4" stroke-width="0.85"/>
<line x1="507.57" y1="103.59" x2="511.47" y2="103.59" stroke="#3050b0" stroke-width="1"/>
<line x1="515.05" y1="96.25" x2="515.05" y2="105.16" stroke="#4f66c4" stroke-width="0.85"/>
<rect x="513.45" y="99.72" width="3.20" height="2.74" fill="#00ff00" stroke="#3a52b0" stroke-width="0.75"/>
<line x1="520.59" y1="95.78" x2="520.59" y2="99.69" stroke="#4f66c4" stroke-width="0.85"/>
<line x1="518.64" y1="98.91" x2="522.54" y2="98.91" stroke="#3050b0" stroke-width="1"/>
<line x1="526.12" y1="98.12" x2="526.12" y2="100.00" stroke="#4f66c4" stroke-width="0.85"/>
<line x1="524.17" y1="99.06" x2="528.08" y2="99.06" stroke="#3050b0" stroke-width="1"/>
<line x1="531.66" y1="98.12" x2="531.66" y2="101.25" stroke="#c84848" stroke-width="0.85"/>
<rect x="530.06" y="99.26" width="3.20" height="1.33" fill="#ff0000" stroke="#d80000" stroke-width="0.7"/>
<line x1="537.19" y1="96.25" x2="537.19" y2="100.78" stroke="#4f66c4" stroke-width="0.85"/>
<line x1="535.24" y1="100.47" x2="539.14" y2="100.47" stroke="#3050b0" stroke-width="1"/>
<line x1="542.73" y1="98.12" x2="542.73" y2="102.03" stroke="#4f66c4" stroke-width="0.85"/>
<line x1="540.78" y1="99.38" x2="544.68" y2="99.38" stroke="#3050b0" stroke-width="1"/>
<line x1="548.26" y1="94.22" x2="548.26" y2="99.69" stroke="#4f66c4" stroke-width="0.85"/>
<rect x="546.66" y="96.91" width="3.20" height="1.33" fill="#00ff00" stroke="#3a52b0" stroke-width="0.75"/>
<line x1="553.80" y1="88.75" x2="553.80" y2="102.81" stroke="#c84848" stroke-width="0.85"/>
<rect x="552.20" y="97.22" width="3.20" height="4.92" fill="#ff0000" stroke="#d80000" stroke-width="0.7"/>
<line x1="559.33" y1="89.53" x2="559.33" y2="103.12" stroke="#4f66c4" stroke-width="0.85"/>
<rect x="557.73" y="97.22" width="3.20" height="4.92" fill="#00ff00" stroke="#3a52b0" stroke-width="0.75"/>
<line x1="564.87" y1="90.00" x2="564.87" y2="101.25" stroke="#4f66c4" stroke-width="0.85"/>
<rect x="563.27" y="94.26" width="3.20" height="1.64" fill="#00ff00" stroke="#3a52b0" stroke-width="0.75"/>
<line x1="570.40" y1="88.44" x2="570.40" y2="102.03" stroke="#c84848" stroke-width="0.85"/>
<rect x="568.80" y="94.57" width="3.20" height="2.89" fill="#ff0000" stroke="#d80000" stroke-width="0.7"/>
<line x1="575.94" y1="89.53" x2="575.94" y2="101.25" stroke="#4f66c4" stroke-width="0.85"/>
<rect x="574.34" y="91.44" width="3.20" height="6.02" fill="#00ff00" stroke="#3a52b0" stroke-width="0.75"/>
<line x1="581.48" y1="79.69" x2="581.48" y2="94.22" stroke="#4f66c4" stroke-width="0.85"/>
<rect x="579.88" y="87.85" width="3.20" height="2.42" fill="#00ff00" stroke="#3a52b0" stroke-width="0.75"/>
<line x1="587.01" y1="86.41" x2="587.01" y2="92.66" stroke="#c84848" stroke-width="0.85"/>
<rect x="585.41" y="87.54" width="3.20" height="0.86" fill="#ff0000" stroke="#d80000" stroke-width="0.7"/>
<line x1="592.54" y1="85.31" x2="592.54" y2="95.78" stroke="#c84848" stroke-width="0.85"/>
<rect x="590.94" y="89.41" width="3.20" height="2.11" fill="#ff0000" stroke="#d80000" stroke-width="0.7"/>
<line x1="598.08" y1="87.19" x2="598.08" y2="95.00" stroke="#c84848" stroke-width="0.85"/>
<line x1="596.13" y1="92.66" x2="600.03" y2="92.66" stroke="#d02020" stroke-width="1"/>
<line x1="603.62" y1="87.97" x2="603.62" y2="93.75" stroke="#c84848" stroke-width="0.85"/>
<line x1="601.66" y1="93.44" x2="605.57" y2="93.44" stroke="#d02020" stroke-width="1"/>
<line x1="609.15" y1="91.88" x2="609.15" y2="97.34" stroke="#4f66c4" stroke-width="0.85"/>
<line x1="607.20" y1="94.22" x2="611.10" y2="94.22" stroke="#3050b0" stroke-width="1"/>
<line x1="614.68" y1="93.44" x2="614.68" y2="99.38" stroke="#c84848" stroke-width="0.85"/>
<rect x="613.08" y="94.57" width="3.20" height="1.64" fill="#ff0000" stroke="#d80000" stroke-width="0.7"/>
<line x1="620.22" y1="96.56" x2="620.22" y2="102.50" stroke="#c84848" stroke-width="0.85"/>
<rect x="618.62" y="97.69" width="3.20" height="3.67" fill="#ff0000" stroke="#d80000" stroke-width="0.7"/>
<line x1="625.75" y1="97.81" x2="625.75" y2="111.88" stroke="#c84848" stroke-width="0.85"/>
<rect x="624.15" y="102.85" width="3.20" height="3.05" fill="#ff0000" stroke="#d80000" stroke-width="0.7"/>
<line x1="631.29" y1="102.81" x2="631.29" y2="116.56" stroke="#c84848" stroke-width="0.85"/>
<line x1="629.34" y1="106.72" x2="633.24" y2="106.72" stroke="#d02020" stroke-width="1"/>
<line x1="636.82" y1="104.38" x2="636.82" y2="126.25" stroke="#c84848" stroke-width="0.85"/>
<rect x="635.22" y="107.54" width="3.20" height="17.89" fill="#ff0000" stroke="#d80000" stroke-width="0.7"/>
<line x1="642.36" y1="122.03" x2="642.36" y2="160.62" stroke="#c84848" stroke-width="0.85"/>
<rect x="640.76" y="126.29" width="3.20" height="31.18" fill="#ff0000" stroke="#d80000" stroke-width="0.7"/>
<line x1="647.89" y1="157.81" x2="647.89" y2="211.25" stroke="#c84848" stroke-width="0.85"/>
<rect x="646.29" y="158.16" width="3.20" height="52.74" fill="#ff0000" stroke="#d80000" stroke-width="0.7"/>
<line x1="653.43" y1="194.38" x2="653.43" y2="227.66" stroke="#c84848" stroke-width="0.85"/>
<line x1="651.48" y1="212.50" x2="655.38" y2="212.50" stroke="#d02020" stroke-width="1"/>
<line x1="658.96" y1="197.19" x2="658.96" y2="235.94" stroke="#c84848" stroke-width="0.85"/>
<rect x="657.36" y="214.41" width="3.20" height="5.08" fill="#ff0000" stroke="#d80000" stroke-width="0.7"/>
<line x1="664.50" y1="207.81" x2="664.50" y2="227.66" stroke="#c84848" stroke-width="0.85"/>
<rect x="662.90" y="221.29" width="3.20" height="1.80" fill="#ff0000" stroke="#d80000" stroke-width="0.7"/>
<line x1="670.03" y1="217.03" x2="670.03" y2="235.94" stroke="#4f66c4" stroke-width="0.85"/>
<rect x="668.43" y="218.16" width="3.20" height="4.92" fill="#00ff00" stroke="#3a52b0" stroke-width="0.75"/>
<line x1="675.57" y1="206.56" x2="675.57" y2="227.66" stroke="#c84848" stroke-width="0.85"/>
<rect x="673.97" y="218.32" width="3.20" height="1.96" fill="#ff0000" stroke="#d80000" stroke-width="0.7"/>
<line x1="681.11" y1="214.06" x2="681.11" y2="226.88" stroke="#4f66c4" stroke-width="0.85"/>
<rect x="679.50" y="214.41" width="3.20" height="5.86" fill="#00ff00" stroke="#3a52b0" stroke-width="0.75"/>
<line x1="686.64" y1="206.56" x2="686.64" y2="218.75" stroke="#c84848" stroke-width="0.85"/>
<line x1="684.69" y1="214.69" x2="688.59" y2="214.69" stroke="#d02020" stroke-width="1"/>
<line x1="692.17" y1="216.25" x2="692.17" y2="237.03" stroke="#c84848" stroke-width="0.85"/>
<rect x="690.57" y="217.07" width="3.20" height="6.02" fill="#ff0000" stroke="#d80000" stroke-width="0.7"/>
<line x1="697.71" y1="190.62" x2="697.71" y2="294.69" stroke="#4f66c4" stroke-width="0.85"/>
<rect x="696.11" y="214.41" width="3.20" height="8.68" fill="#00ff00" stroke="#3a52b0" stroke-width="0.75"/>
<line x1="703.25" y1="181.25" x2="703.25" y2="259.53" stroke="#c84848" stroke-width="0.85"/>
<rect x="701.64" y="214.41" width="3.20" height="44.77" fill="#ff0000" stroke="#d80000" stroke-width="0.7"/>
<line x1="708.78" y1="244.69" x2="708.78" y2="278.75" stroke="#c84848" stroke-width="0.85"/>
<line x1="706.83" y1="260.78" x2="710.73" y2="260.78" stroke="#d02020" stroke-width="1"/>
<line x1="714.31" y1="262.34" x2="714.31" y2="291.56" stroke="#c84848" stroke-width="0.85"/>
<rect x="712.71" y="263.01" width="3.20" height="11.33" fill="#ff0000" stroke="#d80000" stroke-width="0.7"/>
<line x1="719.85" y1="265.00" x2="719.85" y2="285.31" stroke="#4f66c4" stroke-width="0.85"/>
<rect x="718.25" y="271.29" width="3.20" height="3.05" fill="#00ff00" stroke="#3a52b0" stroke-width="0.75"/>
<line x1="725.38" y1="252.50" x2="725.38" y2="277.19" stroke="#4f66c4" stroke-width="0.85"/>
<rect x="723.78" y="253.63" width="3.20" height="16.02" fill="#00ff00" stroke="#3a52b0" stroke-width="0.75"/>
<line x1="730.92" y1="252.97" x2="730.92" y2="268.12" stroke="#c84848" stroke-width="0.85"/>
<rect x="729.32" y="253.63" width="3.20" height="10.24" fill="#ff0000" stroke="#d80000" stroke-width="0.7"/>
<line x1="736.45" y1="264.22" x2="736.45" y2="275.94" stroke="#c84848" stroke-width="0.85"/>
<rect x="734.85" y="265.04" width="3.20" height="10.24" fill="#ff0000" stroke="#d80000" stroke-width="0.7"/>
<line x1="741.99" y1="270.47" x2="741.99" y2="275.94" stroke="#4f66c4" stroke-width="0.85"/>
<rect x="740.39" y="271.60" width="3.20" height="3.67" fill="#00ff00" stroke="#3a52b0" stroke-width="0.75"/>
<line x1="747.52" y1="255.62" x2="747.52" y2="270.94" stroke="#4f66c4" stroke-width="0.85"/>
<rect x="745.92" y="260.35" width="3.20" height="9.77" fill="#00ff00" stroke="#3a52b0" stroke-width="0.75"/>
<line x1="753.06" y1="259.53" x2="753.06" y2="274.69" stroke="#c84848" stroke-width="0.85"/>
<rect x="751.46" y="260.35" width="3.20" height="6.17" fill="#ff0000" stroke="#d80000" stroke-width="0.7"/>
<line x1="758.60" y1="265.31" x2="758.60" y2="273.59" stroke="#c84848" stroke-width="0.85"/>
<rect x="757.00" y="268.16" width="3.20" height="2.74" fill="#ff0000" stroke="#d80000" stroke-width="0.7"/>
<line x1="764.13" y1="264.22" x2="764.13" y2="272.81" stroke="#c84848" stroke-width="0.85"/>
<line x1="762.18" y1="272.34" x2="766.08" y2="272.34" stroke="#d02020" stroke-width="1"/>
<line x1="769.66" y1="267.81" x2="769.66" y2="274.38" stroke="#4f66c4" stroke-width="0.85"/>
<rect x="768.06" y="268.79" width="3.20" height="3.36" fill="#00ff00" stroke="#3a52b0" stroke-width="0.75"/>
<line x1="775.20" y1="265.00" x2="775.20" y2="268.44" stroke="#4f66c4" stroke-width="0.85"/>
<rect x="773.60" y="266.95" width="3.20" height="1.10" fill="#00ff00" stroke="#3a52b0" stroke-width="0.75"/>
<line x1="780.74" y1="263.12" x2="780.74" y2="270.00" stroke="#c84848" stroke-width="0.85"/>
<rect x="779.13" y="267.69" width="3.20" height="0.86" fill="#ff0000" stroke="#d80000" stroke-width="0.7"/>
<line x1="786.27" y1="266.25" x2="786.27" y2="280.94" stroke="#c84848" stroke-width="0.85"/>
<rect x="784.67" y="269.57" width="3.20" height="6.33" fill="#ff0000" stroke="#d80000" stroke-width="0.7"/>
<line x1="791.80" y1="272.03" x2="791.80" y2="276.72" stroke="#4f66c4" stroke-width="0.85"/>
<rect x="790.20" y="275.15" width="3.20" height="1.10" fill="#00ff00" stroke="#3a52b0" stroke-width="0.75"/>
<line x1="797.34" y1="272.81" x2="797.34" y2="279.84" stroke="#4f66c4" stroke-width="0.85"/>
<rect x="795.74" y="273.28" width="3.20" height="1.10" fill="#00ff00" stroke="#3a52b0" stroke-width="0.75"/>
<line x1="802.88" y1="267.34" x2="802.88" y2="273.59" stroke="#4f66c4" stroke-width="0.85"/>
<rect x="801.27" y="272.03" width="3.20" height="1.10" fill="#00ff00" stroke="#3a52b0" stroke-width="0.75"/>
<line x1="808.41" y1="270.00" x2="808.41" y2="274.69" stroke="#4f66c4" stroke-width="0.85"/>
<line x1="806.46" y1="272.34" x2="810.36" y2="272.34" stroke="#3050b0" stroke-width="1"/>
<line x1="813.94" y1="271.25" x2="813.94" y2="275.62" stroke="#c84848" stroke-width="0.85"/>
<line x1="811.99" y1="272.03" x2="815.89" y2="272.03" stroke="#d02020" stroke-width="1"/>
<line x1="819.48" y1="270.94" x2="819.48" y2="277.81" stroke="#4f66c4" stroke-width="0.85"/>
<line x1="817.53" y1="271.25" x2="821.43" y2="271.25" stroke="#3050b0" stroke-width="1"/>
<line x1="825.01" y1="266.88" x2="825.01" y2="274.38" stroke="#4f66c4" stroke-width="0.85"/>
<line x1="823.06" y1="270.47" x2="826.97" y2="270.47" stroke="#3050b0" stroke-width="1"/>
<line x1="830.55" y1="263.44" x2="830.55" y2="276.25" stroke="#c84848" stroke-width="0.85"/>
<rect x="828.95" y="271.29" width="3.20" height="4.30" fill="#ff0000" stroke="#d80000" stroke-width="0.7"/>
<line x1="836.08" y1="263.44" x2="836.08" y2="276.25" stroke="#4f66c4" stroke-width="0.85"/>
<rect x="834.48" y="264.57" width="3.20" height="11.02" fill="#00ff00" stroke="#3a52b0" stroke-width="0.75"/>
<line x1="841.62" y1="259.06" x2="841.62" y2="297.81" stroke="#c84848" stroke-width="0.85"/>
<rect x="840.02" y="265.04" width="3.20" height="17.58" fill="#ff0000" stroke="#d80000" stroke-width="0.7"/>
<line x1="847.15" y1="279.06" x2="847.15" y2="287.66" stroke="#c84848" stroke-width="0.85"/>
<line x1="845.20" y1="282.97" x2="849.11" y2="282.97" stroke="#d02020" stroke-width="1"/>
<line x1="852.69" y1="277.81" x2="852.69" y2="293.91" stroke="#4f66c4" stroke-width="0.85"/>
<rect x="851.09" y="281.76" width="3.20" height="1.33" fill="#00ff00" stroke="#3a52b0" stroke-width="0.75"/>
<line x1="858.23" y1="279.38" x2="858.23" y2="282.97" stroke="#c84848" stroke-width="0.85"/>
<line x1="856.27" y1="281.41" x2="860.18" y2="281.41" stroke="#d02020" stroke-width="1"/>
<line x1="863.76" y1="273.12" x2="863.76" y2="282.50" stroke="#4f66c4" stroke-width="0.85"/>
<rect x="862.16" y="278.32" width="3.20" height="3.21" fill="#00ff00" stroke="#3a52b0" stroke-width="0.75"/>
<line x1="869.29" y1="276.25" x2="869.29" y2="282.19" stroke="#c84848" stroke-width="0.85"/>
<rect x="867.69" y="278.32" width="3.20" height="1.96" fill="#ff0000" stroke="#d80000" stroke-width="0.7"/>
<line x1="874.83" y1="277.19" x2="874.83" y2="281.41" stroke="#4f66c4" stroke-width="0.85"/>
<line x1="872.88" y1="280.94" x2="876.78" y2="280.94" stroke="#3050b0" stroke-width="1"/>
<line x1="880.37" y1="270.00" x2="880.37" y2="280.94" stroke="#4f66c4" stroke-width="0.85"/>
<rect x="878.76" y="274.41" width="3.20" height="5.55" fill="#00ff00" stroke="#3a52b0" stroke-width="0.75"/>
<line x1="885.90" y1="269.69" x2="885.90" y2="275.16" stroke="#c84848" stroke-width="0.85"/>
<line x1="883.95" y1="274.06" x2="887.85" y2="274.06" stroke="#d02020" stroke-width="1"/>
<line x1="891.43" y1="266.88" x2="891.43" y2="280.94" stroke="#c84848" stroke-width="0.85"/>
<rect x="889.83" y="275.51" width="3.20" height="3.99" fill="#ff0000" stroke="#d80000" stroke-width="0.7"/>
<line x1="896.97" y1="273.12" x2="896.97" y2="284.53" stroke="#4f66c4" stroke-width="0.85"/>
<line x1="895.02" y1="279.38" x2="898.92" y2="279.38" stroke="#3050b0" stroke-width="1"/>
<line x1="902.50" y1="279.06" x2="902.50" y2="306.56" stroke="#c84848" stroke-width="0.85"/>
<rect x="900.90" y="279.73" width="3.20" height="6.02" fill="#ff0000" stroke="#d80000" stroke-width="0.7"/>
<line x1="908.04" y1="286.56" x2="908.04" y2="306.25" stroke="#c84848" stroke-width="0.85"/>
<rect x="906.44" y="287.23" width="3.20" height="15.71" fill="#ff0000" stroke="#d80000" stroke-width="0.7"/>
<line x1="913.57" y1="259.06" x2="913.57" y2="303.28" stroke="#4f66c4" stroke-width="0.85"/>
<rect x="911.97" y="271.91" width="3.20" height="30.55" fill="#00ff00" stroke="#3a52b0" stroke-width="0.75"/>
<line x1="919.11" y1="250.94" x2="919.11" y2="282.19" stroke="#4f66c4" stroke-width="0.85"/>
<rect x="917.51" y="267.69" width="3.20" height="2.89" fill="#00ff00" stroke="#3a52b0" stroke-width="0.75"/>
<line x1="924.64" y1="257.97" x2="924.64" y2="279.06" stroke="#4f66c4" stroke-width="0.85"/>
<line x1="922.69" y1="267.34" x2="926.60" y2="267.34" stroke="#3050b0" stroke-width="1"/>
<line x1="930.18" y1="267.34" x2="930.18" y2="282.19" stroke="#c84848" stroke-width="0.85"/>
<rect x="928.58" y="267.69" width="3.20" height="13.83" fill="#ff0000" stroke="#d80000" stroke-width="0.7"/>
<line x1="935.72" y1="261.09" x2="935.72" y2="282.97" stroke="#4f66c4" stroke-width="0.85"/>
<rect x="934.12" y="263.48" width="3.20" height="18.05" fill="#00ff00" stroke="#3a52b0" stroke-width="0.75"/>
<line x1="941.25" y1="249.69" x2="941.25" y2="266.88" stroke="#4f66c4" stroke-width="0.85"/>
<rect x="939.65" y="250.51" width="3.20" height="11.80" fill="#00ff00" stroke="#3a52b0" stroke-width="0.75"/>
<line x1="946.78" y1="249.06" x2="946.78" y2="261.56" stroke="#c84848" stroke-width="0.85"/>
<rect x="945.18" y="250.04" width="3.20" height="10.71" fill="#ff0000" stroke="#d80000" stroke-width="0.7"/>
<line x1="952.32" y1="256.41" x2="952.32" y2="274.38" stroke="#c84848" stroke-width="0.85"/>
<line x1="950.37" y1="262.19" x2="954.27" y2="262.19" stroke="#d02020" stroke-width="1"/>
<line x1="957.86" y1="257.50" x2="957.86" y2="281.88" stroke="#c84848" stroke-width="0.85"/>
<rect x="956.25" y="263.48" width="3.20" height="9.77" fill="#ff0000" stroke="#d80000" stroke-width="0.7"/>
<line x1="963.39" y1="265.78" x2="963.39" y2="285.31" stroke="#4f66c4" stroke-width="0.85"/>
<line x1="961.44" y1="273.28" x2="965.34" y2="273.28" stroke="#3050b0" stroke-width="1"/>
<line x1="968.92" y1="264.22" x2="968.92" y2="281.88" stroke="#4f66c4" stroke-width="0.85"/>
<rect x="967.32" y="265.04" width="3.20" height="7.11" fill="#00ff00" stroke="#3a52b0" stroke-width="0.75"/>
<line x1="974.46" y1="253.28" x2="974.46" y2="272.81" stroke="#4f66c4" stroke-width="0.85"/>
<line x1="972.51" y1="264.22" x2="976.41" y2="264.22" stroke="#3050b0" stroke-width="1"/>
<line x1="980.00" y1="251.00" x2="980.00" y2="274.38" stroke="#c84848" stroke-width="0.85"/>
<rect x="978.39" y="263.79" width="3.20" height="6.80" fill="#ff0000" stroke="#d80000" stroke-width="0.7"/>
<line x1="985.53" y1="270.94" x2="985.53" y2="304.06" stroke="#c84848" stroke-width="0.85"/>
<rect x="983.93" y="271.60" width="3.20" height="13.36" fill="#ff0000" stroke="#d80000" stroke-width="0.7"/>
<polyline points="0,410.50 0.30,410.50 5.83,410.50 11.37,410.50 16.91,410.50 22.44,410.50 27.98,410.50 33.51,325.50 39.05,325.50 44.58,325.50 50.11,325.50 55.65,325.50 61.19,325.50 66.72,325.50 72.25,325.50 77.79,325.50 83.33,410.50 88.86,410.50 94.39,410.50 99.93,410.50 105.47,410.50 111.00,410.50 116.53,325.50 122.07,325.50 127.61,325.50 133.14,410.50 138.68,410.50 144.21,410.50 149.75,410.50 155.28,325.50 160.82,325.50 166.35,410.50 171.89,410.50 177.42,410.50 182.96,410.50 188.49,410.50 194.03,410.50 199.56,410.50 205.10,325.50 210.63,325.50 216.17,325.50 221.70,325.50 227.24,325.50 232.77,325.50 238.31,410.50 243.84,410.50 249.38,410.50 254.91,410.50 260.44,410.50 265.98,325.50 271.52,325.50 277.05,325.50 282.59,325.50 288.12,325.50 293.66,410.50 299.19,410.50 304.73,410.50 310.26,325.50 315.80,325.50 321.33,325.50 326.87,325.50 332.40,325.50 337.94,325.50 343.47,325.50 349.00,325.50 354.54,410.50 360.08,410.50 365.61,410.50 371.15,410.50 376.68,410.50 382.22,410.50 387.75,410.50 393.29,410.50 398.82,410.50 404.36,410.50 409.89,410.50 415.43,410.50 420.96,410.50 426.50,410.50 432.03,410.50 437.56,325.50 443.10,325.50 448.64,410.50 454.17,410.50 459.71,410.50 465.24,410.50 470.78,410.50 476.31,410.50 481.85,410.50 487.38,410.50 492.92,410.50 498.45,325.50 503.99,325.50 509.52,325.50 515.05,325.50 520.59,325.50 526.12,325.50 531.66,410.50 537.19,410.50 542.73,410.50 548.26,410.50 553.80,410.50 559.33,410.50 564.87,410.50 570.40,410.50 575.94,410.50 581.48,410.50 587.01,410.50 592.54,410.50 598.08,410.50 603.62,410.50 609.15,410.50 614.68,410.50 620.22,410.50 625.75,410.50 631.29,410.50 636.82,410.50 642.36,410.50 647.89,410.50 653.43,410.50 658.96,410.50 664.50,410.50 670.03,410.50 675.57,410.50 681.11,410.50 686.64,410.50 692.17,410.50 697.71,410.50 703.25,410.50 708.78,410.50 714.31,410.50 719.85,410.50 725.38,410.50 730.92,410.50 736.45,410.50 741.99,410.50 747.52,410.50 753.06,410.50 758.60,410.50 764.13,410.50 769.66,410.50 775.20,410.50 780.74,325.50 786.27,325.50 791.80,325.50 797.34,325.50 802.88,325.50 808.41,325.50 813.94,410.50 819.48,410.50 825.01,410.50 830.55,325.50 836.08,325.50 841.62,325.50 847.15,325.50 852.69,325.50 858.23,325.50 863.76,325.50 869.29,325.50 874.83,325.50 880.37,325.50 885.90,325.50 891.43,325.50 896.97,325.50 902.50,410.50 908.04,410.50 913.57,410.50 919.11,325.50 924.64,325.50 930.18,325.50 935.72,410.50 941.25,410.50 946.78,325.50 952.32,325.50 957.86,410.50 963.39,410.50 968.92,410.50 974.46,325.50 980.00,325.50 985.53,325.50" fill="none" stroke="#820a88" stroke-width="1.3" stroke-linejoin="miter"/>
<rect x="1.5" y="319" width="75" height="8" fill="#909090" opacity="0.55"/>
<rect x="-1" y="317.6" width="75.8" height="7.8" rx="1" fill="#ffffff" stroke="#505050" stroke-width="0.7"/>
<text x="0.9" y="323.9" font-size="6.5" textLength="71.8" lengthAdjust="spacingAndGlyphs" fill="#151515">Gann Swing Osc. = 1.0000</text>
<rect x="996" y="8.7" width="28" height="303.8" fill="#ffffff"/>
<rect x="996" y="314" width="28" height="102" fill="#ffffff"/>
<line x1="996.5" y1="8.7" x2="996.5" y2="312.5" stroke="#3a3a3a" stroke-width="1"/>
<line x1="996.5" y1="314" x2="996.5" y2="416" stroke="#3a3a3a" stroke-width="1"/>
<line x1="993.3" y1="15.25" x2="996.5" y2="15.25" stroke="#3a3a3a" stroke-width="0.9"/>
<text x="997.3" y="17.75" font-size="6.9" textLength="25" lengthAdjust="spacingAndGlyphs" fill="#303030">1.3550[0]</text>
<line x1="993.3" y1="45.25" x2="996.5" y2="45.25" stroke="#3a3a3a" stroke-width="0.9"/>
<text x="997.3" y="47.75" font-size="6.9" textLength="25" lengthAdjust="spacingAndGlyphs" fill="#303030">1.3540[0]</text>
<line x1="993.3" y1="76.40" x2="996.5" y2="76.40" stroke="#3a3a3a" stroke-width="0.9"/>
<text x="997.3" y="78.90" font-size="6.9" textLength="25" lengthAdjust="spacingAndGlyphs" fill="#303030">1.3530[0]</text>
<line x1="993.3" y1="106.25" x2="996.5" y2="106.25" stroke="#3a3a3a" stroke-width="0.9"/>
<text x="997.3" y="108.75" font-size="6.9" textLength="25" lengthAdjust="spacingAndGlyphs" fill="#303030">1.3520[0]</text>
<line x1="993.3" y1="137.40" x2="996.5" y2="137.40" stroke="#3a3a3a" stroke-width="0.9"/>
<text x="997.3" y="139.90" font-size="6.9" textLength="25" lengthAdjust="spacingAndGlyphs" fill="#303030">1.3510[0]</text>
<line x1="993.3" y1="167.40" x2="996.5" y2="167.40" stroke="#3a3a3a" stroke-width="0.9"/>
<text x="997.3" y="169.90" font-size="6.9" textLength="25" lengthAdjust="spacingAndGlyphs" fill="#303030">1.3500[0]</text>
<line x1="993.3" y1="198.25" x2="996.5" y2="198.25" stroke="#3a3a3a" stroke-width="0.9"/>
<text x="997.3" y="200.75" font-size="6.9" textLength="25" lengthAdjust="spacingAndGlyphs" fill="#303030">1.3490[0]</text>
<line x1="993.3" y1="229.00" x2="996.5" y2="229.00" stroke="#3a3a3a" stroke-width="0.9"/>
<text x="997.3" y="231.50" font-size="6.9" textLength="25" lengthAdjust="spacingAndGlyphs" fill="#303030">1.3480[0]</text>
<line x1="993.3" y1="259.20" x2="996.5" y2="259.20" stroke="#3a3a3a" stroke-width="0.9"/>
<text x="997.3" y="261.70" font-size="6.9" textLength="25" lengthAdjust="spacingAndGlyphs" fill="#303030">1.3470[0]</text>
<line x1="993.3" y1="290.40" x2="996.5" y2="290.40" stroke="#3a3a3a" stroke-width="0.9"/>
<text x="997.3" y="292.90" font-size="6.9" textLength="25" lengthAdjust="spacingAndGlyphs" fill="#303030">1.3460[0]</text>
<line x1="993.3" y1="336.12" x2="996.5" y2="336.12" stroke="#3a3a3a" stroke-width="0.9"/>
<text x="997.3" y="338.62" font-size="6.9" textLength="25" lengthAdjust="spacingAndGlyphs" fill="#303030">0.7500[0]</text>
<line x1="993.3" y1="351.00" x2="996.5" y2="351.00" stroke="#3a3a3a" stroke-width="0.9"/>
<text x="997.3" y="353.50" font-size="6.9" textLength="25" lengthAdjust="spacingAndGlyphs" fill="#303030">0.4000[0]</text>
<line x1="993.3" y1="365.88" x2="996.5" y2="365.88" stroke="#3a3a3a" stroke-width="0.9"/>
<text x="997.3" y="368.38" font-size="6.9" textLength="25" lengthAdjust="spacingAndGlyphs" fill="#303030">0.0500[0]</text>
<line x1="993.3" y1="380.75" x2="996.5" y2="380.75" stroke="#3a3a3a" stroke-width="0.9"/>
<text x="997.3" y="383.25" font-size="6.9" textLength="27.3" lengthAdjust="spacingAndGlyphs" fill="#303030">-0.3000[0]</text>
<line x1="993.3" y1="395.62" x2="996.5" y2="395.62" stroke="#3a3a3a" stroke-width="0.9"/>
<text x="997.3" y="398.12" font-size="6.9" textLength="27.3" lengthAdjust="spacingAndGlyphs" fill="#303030">-0.6500[0]</text>
<line x1="993.3" y1="410.50" x2="996.5" y2="410.50" stroke="#3a3a3a" stroke-width="0.9"/>
<text x="997.3" y="413.00" font-size="6.9" textLength="27.3" lengthAdjust="spacingAndGlyphs" fill="#303030">-1.0000[0]</text>
<rect x="997.2" y="281" width="26.6" height="8.5" rx="1.6" fill="#f5a238"/>
<text x="997.9" y="288.1" font-size="7.2" textLength="25" lengthAdjust="spacingAndGlyphs" fill="#ffffff">1.3461[3]</text>
</svg></body></html>
